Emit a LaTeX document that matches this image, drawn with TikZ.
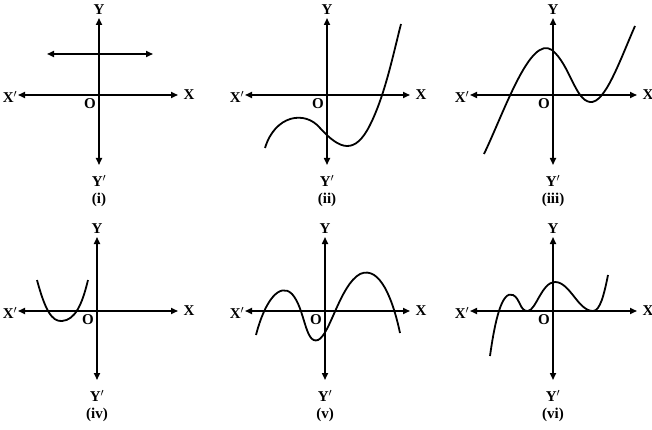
\documentclass[tikz,border=0pt]{standalone}
\usepackage{fontspec}
\setmainfont{Liberation Serif}
\usetikzlibrary{arrows.meta}
\begin{document}
\begin{tikzpicture}[x=1pt,y=-1pt,
  ax/.style={line width=1.6pt,{Triangle[length=7pt,width=6pt]}-{Triangle[length=7pt,width=6pt]}},
  cv/.style={line width=1.8pt},
  lb/.style={font=\bfseries\fontsize{15}{15}\selectfont,inner sep=0pt}]
\useasboundingbox (0,0) rectangle (652,430);
\foreach \cx/\cy/\lx/\rx/\ty/\by/\nm in {99/95/18/178/18/165/(i),327/95/245/410/18/165/(ii),553/95/470/637/18/165/(iii),97/311/18/178/237/380/(iv),325/311/245/410/237/380/(v),553/311/470/637/237/380/(vi)}{
  \draw[ax] (\lx,\cy) -- (\rx,\cy);
  \draw[ax] (\cx,\ty) -- (\cx,\by);
  \node[lb] at (\lx-8,\cy+2) {X$'$};
  \node[lb] at (\rx+11,\cy) {X};
  \node[lb] at (\cx,\ty-8) {Y};
  \node[lb] at (\cx,\by+16) {Y$'$};
  \node[lb] at (\cx,\by+35) {\nm};
  \node[lb] at (\cx-9,\cy+9) {O};
}
\draw[ax] (47,54) -- (153,54);
\draw[cv] (265,148) .. controls (275,115) and (305,110) .. (320,128) .. controls (340,150) and (355,155) .. (370,125) .. controls (385,95) and (393,55) .. (401,24);
\draw[cv] (484,154) .. controls (505,110) and (530,35) .. (552,50) .. controls (570,65) and (575,100) .. (590,102) .. controls (605,104) and (620,60) .. (635,26);
\draw[cv] (37,280) .. controls (45,310) and (52,322) .. (62,321) .. controls (75,320) and (82,305) .. (88,280);
\draw[cv] (256,335) .. controls (265,300) and (280,282) .. (292,294) .. controls (305,308) and (305,345) .. (318,340) .. controls (330,335) and (340,285) .. (360,274) .. controls (380,265) and (393,300) .. (400,333);
\draw[cv] (490,356) .. controls (495,320) and (502,290) .. (513,295) .. controls (520,298) and (520,312) .. (528,311) .. controls (536,310) and (542,282) .. (555,282) .. controls (570,282) and (578,311) .. (593,311) .. controls (600,311) and (604,295) .. (608,275);
\end{tikzpicture}
\end{document}
